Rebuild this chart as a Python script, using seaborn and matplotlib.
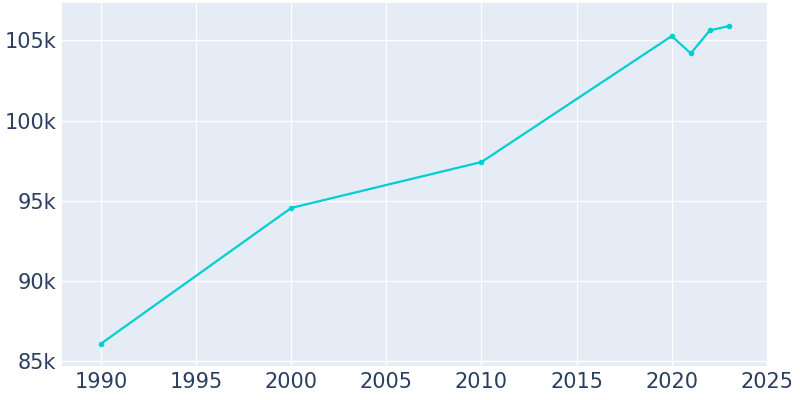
import pandas as pd
import matplotlib
matplotlib.use('Agg')
import matplotlib.pyplot as plt
import seaborn as sns
from matplotlib.ticker import FuncFormatter

# Population values
YEARS = [1990, 2000, 2010, 2020, 2021, 2022, 2023]
POPULATION = [86100, 94560, 97420, 105270, 104190, 105620, 105890]
X_TICKS = [1990, 1995, 2000, 2005, 2010, 2015, 2020, 2025]
Y_TICKS = [85000, 90000, 95000, 100000, 105000]

BG = '#E5ECF6'
TEXT = '#2a3f5f'
LINE = '#00CED1'

df = pd.DataFrame({'year': YEARS, 'population': POPULATION})

sns.set_style('darkgrid', {'axes.facecolor': BG, 'grid.color': 'white'})
plt.rcParams['font.family'] = ['DejaVu Sans']

fig = plt.figure(figsize=(8, 4), dpi=100)
ax = fig.add_axes([0.0775, 0.085, 0.8825, 0.9075])

sns.lineplot(data=df, x='year', y='population', color=LINE, linewidth=1.6,
             marker='o', markersize=4, markeredgewidth=0, ax=ax)

ax.set_xlim(1987.95, 2025.06)
ax.set_ylim(84710, 107330)
ax.set_xticks(X_TICKS)
ax.set_yticks(Y_TICKS)
ax.yaxis.set_major_formatter(FuncFormatter(lambda v, p: f'{int(v/1000)}k'))
ax.tick_params(axis='both', labelsize=15, colors=TEXT, length=0, pad=4)
ax.grid(True, color='white', linewidth=1)
ax.set_xlabel('')
ax.set_ylabel('')
for s in ax.spines.values():
    s.set_visible(False)

fig.savefig('out.png', dpi=100, facecolor='white')
